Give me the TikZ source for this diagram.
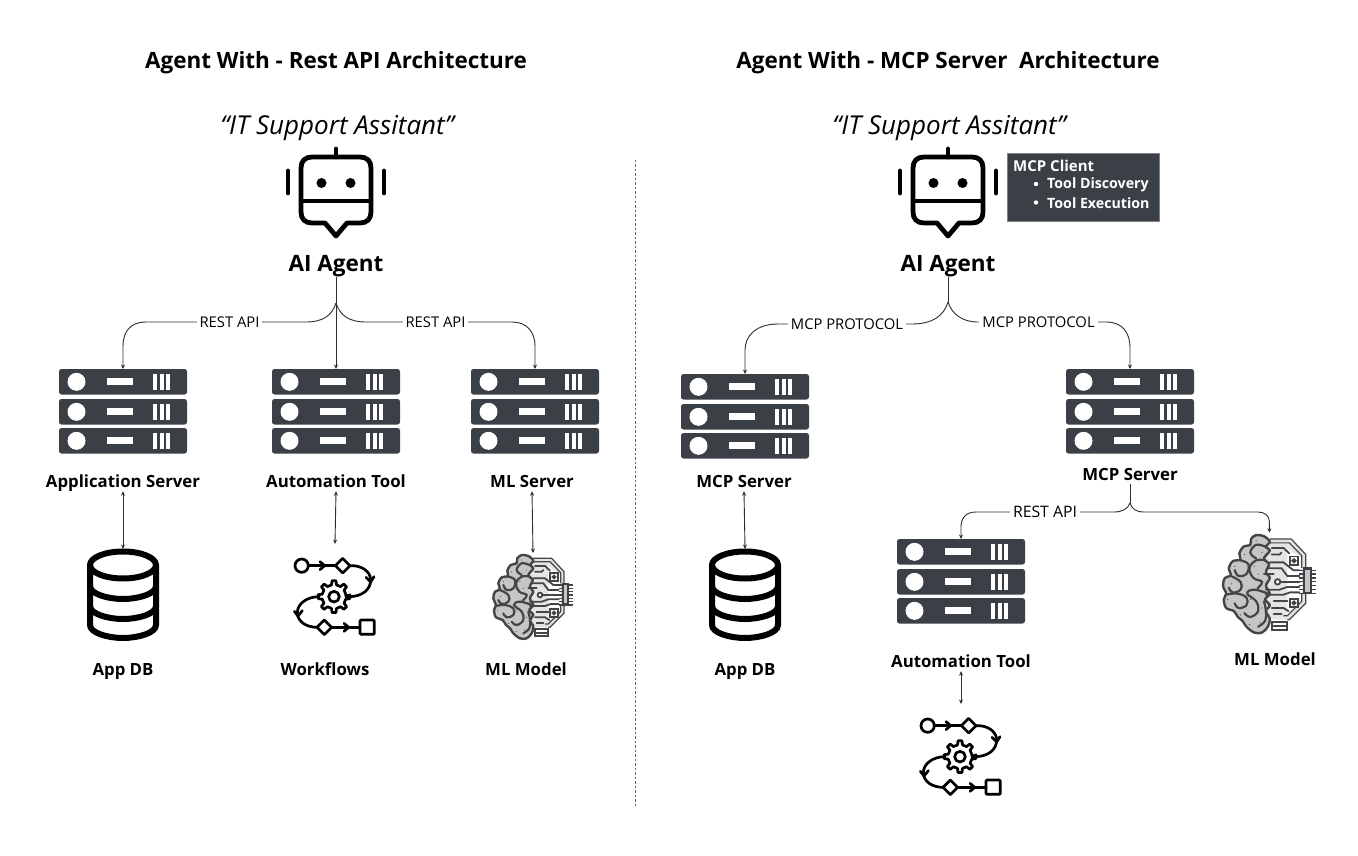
\documentclass[tikz,border=0pt]{standalone}
\usepackage{fontspec}
\setmainfont{Open Sans}
\usetikzlibrary{arrows.meta}
\definecolor{slate}{HTML}{3B4046}
\definecolor{wire}{HTML}{2E2E2E}
\definecolor{lobe}{HTML}{C6C6C6}
\definecolor{lobeline}{HTML}{454545}
\definecolor{board}{HTML}{E4E4E4}
\newcommand{\fs}[1]{\fontsize{#1}{#1}\selectfont}
\tikzset{
  x=1pt,y=-1pt,
  heading/.style={font=\fs{22.45}\bfseries,inner sep=0pt},
  quote/.style={font=\fs{26}\itshape\mdseries,inner sep=0pt},
  agentname/.style={font=\fs{22.5}\bfseries,inner sep=0pt},
  caption/.style={font=\fs{16.8}\bfseries,inner sep=0pt,text height=13pt,text depth=4pt},
  linktext/.style={font=\fs{14.8},inner sep=3pt,fill=white},
  conn/.style={draw=wire,line width=0.9pt},
  both/.style={conn,{Stealth[length=4.5pt,width=4pt]}-{Stealth[length=4.5pt,width=4pt]}},
  tohead/.style={conn,-{Stealth[length=4.5pt,width=4pt]}},
  icon/.style={line width=2.7pt,black,line join=round,line cap=round},
  serverstack/.pic={
    \foreach \t in {0,30,59}{
      \fill[slate,rounded corners=2.5pt] (0,\t) rectangle (128,\t+25.5);
      \fill[white] (17.5,\t+12.8) circle (9);
      \fill[white] (48,\t+9.3) rectangle (74,\t+16.3);
      \foreach \b in {94,100.5,107}{\fill[white] (\b,\t+4.5) rectangle (\b+4,\t+21);}
    }
    \coordinate (-top) at (64,0);
  },
  robot/.pic={
    \draw[line width=4.8pt,line join=round] (-24,-26) -- (24,-26)
      .. controls (31,-26) and (35,-22) .. (35,-15) -- (35,29)
      .. controls (35,36) and (31,40) .. (24,40) -- (11,40) -- (0,53) -- (-11,40) -- (-24,40)
      .. controls (-31,40) and (-35,36) .. (-35,29) -- (-35,-15)
      .. controls (-35,-22) and (-31,-26) .. (-24,-26) -- cycle;
    \draw[line width=4.8pt] (-35,18) -- (35,18);
    \draw[line width=4.8pt,line cap=round] (0,-34) -- (0,-26);
    \draw[line width=4.8pt,line cap=round] (-48,-12) -- (-48,10);
    \draw[line width=4.8pt,line cap=round] (48,-12) -- (48,10);
    \fill (-14.5,0) circle (5);
    \fill (14.5,0) circle (5);
  },
  database/.pic={
    \begin{scope}[line width=6pt]
      \draw (0,16) ellipse (33 and 13.5);
      \draw (-33,16) -- (-33,76) .. controls (-33,84) and (-15,89) .. (0,89)
            .. controls (15,89) and (33,84) .. (33,76) -- (33,16);
      \draw (-33,37) .. controls (-33,45) and (-15,50) .. (0,50) .. controls (15,50) and (33,45) .. (33,37);
      \draw (-33,57) .. controls (-33,65) and (-15,70) .. (0,70) .. controls (15,70) and (33,65) .. (33,57);
    \end{scope}
    \coordinate (-top) at (0,0);
  },
  workflow/.pic={
    \begin{scope}[icon,scale=1/3]
      \draw (65,77) circle (20);
      \draw (85,77) -- (166,77);
      \draw (188,55) -- (210,77) -- (188,99) -- (166,77) -- cycle;
      \draw (120,65) -- (134,77) -- (120,89);
      \draw (210,77) .. controls (245,75) and (272,95) .. (272,120)
            .. controls (272,150) and (245,170) .. (207,170);
      \draw (258,112) -- (272,126) -- (282,110);
      \begin{scope}[shift={(162,170)}]
        \draw (0:36) \foreach \a in {0,45,...,315}{
          -- (\a-7:48) -- (\a+7:48) -- (\a+12:36) -- (\a+33:36)} -- cycle;
        \draw (0,0) circle (16);
      \end{scope}
      \draw (117,170) .. controls (80,170) and (52,192) .. (52,218)
            .. controls (52,245) and (80,262) .. (111,262);
      \draw (43,214) -- (54,228) -- (67,212);
      \draw (133,240) -- (155,262) -- (133,284) -- (111,262) -- cycle;
      \draw (155,262) -- (240,262);
      \draw (192,250) -- (206,262) -- (192,274);
      \draw[rounded corners=1pt] (240,240) rectangle (283,283);
    \end{scope}
    \coordinate (-top) at (55,4);
  },
  brainchip/.pic={
    \begin{scope}[scale=1/3]
      % circuit-board half, behind the brain
      \fill[board] (150,85) -- (215,85) -- (252,125) -- (252,250) -- (210,292) -- (150,292) -- cycle;
      \fill[white] (205,110) -- (242,135) -- (242,240) -- (205,275) -- cycle;
      \begin{scope}[lobeline,line width=1.2pt]
        \draw (160,85) -- (215,85) -- (252,125) -- (252,160) (252,225) -- (252,250) -- (210,292) -- (205,292);
        \draw (160,95) -- (210,95) -- (242,128) -- (242,160) (242,225) -- (242,245) -- (205,282) -- (195,282);
        \fill[slate] (245,158) rectangle (268,227);
        \fill[lobe] (251,165) rectangle (262,220);
        \foreach \py in {165,175,...,225}{\draw (236,\py) -- (245,\py) (268,\py) -- (279,\py);}
      \end{scope}
      % cerebral half: scalloped outline, then folds and speckles
      \draw[lobeline,fill=lobe,line width=2.4pt,line join=round] plot[smooth cycle,tension=0.55] coordinates {
        (160,92) (145,78) (125,75) (112,85) (110,100) (92,105) (82,122) (84,138)
        (65,142) (55,160) (60,178) (45,185) (40,205) (48,225) (42,240) (48,262)
        (68,270) (78,285) (90,295) (100,310) (120,325) (140,325) (155,310) (160,290)
        (150,270) (160,255) (148,240) (160,225) (150,205) (160,185) (150,170)
        (158,150) (145,135) (160,115) (150,105)};
      \begin{scope}[lobeline,line width=2.2pt,line cap=round]
        \draw plot[smooth,tension=0.7] coordinates {(148,105) (125,100) (110,120) (125,135)};
        \draw plot[smooth,tension=0.7] coordinates {(85,140) (105,150) (100,175) (80,180) (70,165)};
        \draw plot[smooth,tension=0.7] coordinates {(150,140) (125,140) (108,160) (118,185) (140,195) (128,212)};
        \draw plot[smooth,tension=0.7] coordinates {(60,180) (85,195) (85,215) (65,222) (55,210)};
        \draw plot[smooth,tension=0.7] coordinates {(48,228) (75,225) (100,235) (100,255) (80,262) (70,250)};
        \draw plot[smooth,tension=0.7] coordinates {(155,225) (120,215) (102,225) (125,245) (130,270) (110,285) (95,275)};
        \draw plot[smooth,tension=0.7] coordinates {(145,245) (150,270) (148,295) (130,310)};
      \end{scope}
      \foreach \dx/\dy in {125/90,95/125,70/155,62/200,52/240,120/155,110/240,85/280,108/305,135/300,140/262,90/205,140/120,130/175,72/255}{
        \fill[lobeline] (\dx,\dy) circle (1.6);
      }
      % traces and board components
      \begin{scope}[lobeline,line width=1.8pt,line cap=round]
        \draw (165,108) -- (195,108) -- (210,122);
        \draw (165,125) -- (185,125) -- (190,120);
        \draw (160,145) -- (195,145) -- (220,165) -- (236,165);
        \draw (155,160) -- (190,160) -- (205,180) -- (236,180);
        \draw (145,175) -- (170,175);
        \draw (190,195) -- (236,195);
        \draw (150,215) -- (185,215) -- (205,208) -- (236,208);
        \draw (150,228) -- (195,228) -- (212,222) -- (236,222);
        \draw (170,245) -- (205,245);
        \draw (165,262) -- (195,262) -- (208,270);
        \draw (170,278) -- (190,278);
        \draw[fill=white] (211,130) rectangle (233,152);
        \draw[fill=lobe] (222,141) circle (4);
        \draw[fill=white] (211,238) rectangle (233,260);
        \draw[fill=lobe] (222,249) circle (4);
        \draw[fill=white] (180,195) circle (7);
        \draw (165,298) rectangle (205,318);
        \draw (170,308) -- (200,308);
      \end{scope}
    \end{scope}
    \coordinate (-top) at (53,23);
  }
}
\begin{document}
\begin{tikzpicture}
\useasboundingbox (0,0) rectangle (1358,856);
\fill[white] (0,0) rectangle (1358,856);

% Panel headings
\node[heading] (titleL) at (336,63) {Agent With - Rest API Architecture};
\node[heading] (titleR) at (948,63) {Agent With - MCP Server\ \ Architecture};
\node[quote] (quoteL) at (337,128) {“IT Support Assitant”};
\node[quote] (quoteR) at (949,128) {“IT Support Assitant”};

% Divider between the two panels
\coordinate (divtop) at (635,160);
\coordinate (divbot) at (635,806);
\draw[gray!80!black,line width=0.8pt,dash pattern=on 2.5pt off 2pt] (divtop) -- (divbot);

% REST panel
\pic at (336,183) {robot};
\node[agentname] (agentL) at (336,266) {AI Agent};
\pic (appL) at (59,369) {serverstack};
\pic (autoL) at (272,369) {serverstack};
\pic (mlsL) at (471,369) {serverstack};
\node[caption] (capAppL) at (123,482.5) {Application Server};
\node[caption] (capAutoL) at (336,482.5) {Automation Tool};
\node[caption] (capMlsL) at (532,482.5) {ML Server};
\pic (dbL) at (123,549) {database};
\pic (flowL) at (280,540) {workflow};
\pic (brainL) at (480,530) {brainchip};
\node[caption] (capDbL) at (123,670.5) {App DB};
\node[caption] (capFlowL) at (325,670.5) {Workflows};
\node[caption] (capBrainL) at (526,670.5) {ML Model};

\coordinate (forkL) at (336,303);
\draw[conn] (agentL.south) -- (forkL);
\draw[tohead] (forkL) -- (autoL-top);
\draw[tohead] (forkL) .. controls (332,316) and (322,322) .. (306,322)
  -- node[linktext,pos=0.478] (restL1) {REST API} (146,322)
  .. controls (130,322) and (123,332) .. (123,346) -- (appL-top);
\draw[tohead] (forkL) .. controls (340,316) and (350,322) .. (366,322)
  -- node[linktext,pos=0.476] (restL2) {REST API} (512,322)
  .. controls (527,322) and (535,332) .. (535,346) -- (mlsL-top);
\draw[both] (capAppL.south) -- (dbL-top);
\draw[both] (capAutoL.south) -- (flowL-top);
\draw[both] (capMlsL.south) -- (brainL-top);

% MCP panel
\pic at (948,183) {robot};
\node[agentname] (agentR) at (948,266) {AI Agent};
\node[draw=gray,fill=slate,minimum width=152pt,minimum height=68pt,inner sep=0pt] (client) at (1083,187) {};
\node[anchor=west,text=white,font=\fs{15}\bfseries,inner sep=0pt] (clientname) at (1013,166) {MCP Client};
\node[anchor=west,text=white,font=\fs{14.2}\bfseries,inner sep=0pt] (clientA) at (1047,185) {Tool Discovery};
\node[anchor=west,text=white,font=\fs{14.2}\bfseries,inner sep=0pt] (clientB) at (1047,203) {Tool Execution};
\fill[white] (1036,184) circle (2.2) (1036,202.5) circle (2.2);

\pic (mcpA) at (681,374) {serverstack};
\pic (mcpB) at (1066,369) {serverstack};
\pic (autoR) at (897,539) {serverstack};
\node[caption] (capMcpA) at (744,482.5) {MCP Server};
\node[caption] (capMcpB) at (1130,475.5) {MCP Server};
\node[caption] (capAutoR) at (961,662.5) {Automation Tool};
\pic (dbR) at (745,549) {database};
\pic (flowR) at (906,700) {workflow};
\pic[scale=1.17] (brainR) at (1207.4,505.8) {brainchip};
\node[caption] (capDbR) at (745,670.5) {App DB};
\node[caption] (capBrainR) at (1275,660.5) {ML Model};

\coordinate (forkR) at (948,302);
\draw[conn] (agentR.south) -- (forkR);
\draw[tohead] (forkR) .. controls (944,316) and (932,324) .. (912,324)
  -- node[linktext,pos=0.485] (protoA) {MCP PROTOCOL} (778,324)
  .. controls (756,324) and (745,336) .. (745,350) -- (mcpA-top);
\draw[tohead] (forkR) .. controls (952,314) and (962,322) .. (978,322)
  -- node[linktext,pos=0.473] (protoB) {MCP PROTOCOL} (1106,322)
  .. controls (1122,322) and (1130,332) .. (1130,348) -- (mcpB-top);

\coordinate (forkS) at (1130,503);
\draw[conn] (capMcpB.south) -- (forkS);
\draw[tohead] (forkS) .. controls (1128,509) and (1122,512) .. (1114,512)
  -- node[linktext,font=\fs{15.8},pos=0.5] (restR) {REST API} (976,512)
  .. controls (965,512) and (961,519) .. (961,527) -- (autoR-top);
\draw[tohead] (forkS) .. controls (1132,509) and (1136,512) .. (1144,512)
  -- (1258,512) .. controls (1265,512) and (1269.4,516) .. (1269.4,522) -- (brainR-top);
\draw[both] (capMcpA.south) -- (dbR-top);
\draw[both] (capAutoR.south) -- (flowR-top);
\end{tikzpicture}
\end{document}
